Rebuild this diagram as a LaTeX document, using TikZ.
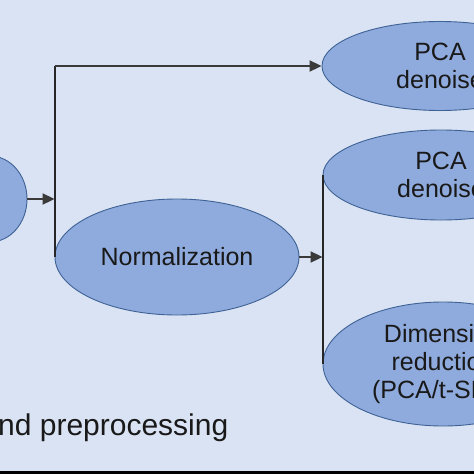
\documentclass[tikz,border=0pt]{standalone}
\usepackage{fontspec}
\setmainfont{Liberation Sans}
\usetikzlibrary{arrows.meta,shapes.geometric}
\definecolor{bgc}{HTML}{DAE3F3}
\definecolor{ellfill}{HTML}{8FAADC}
\definecolor{elldraw}{HTML}{3E6295}
\definecolor{linec}{HTML}{262626}
\definecolor{arrc}{HTML}{3A3A3A}
\tikzset{
  ell/.style={ellipse, draw=elldraw, line width=0.9pt, fill=ellfill, inner sep=0pt,
    align=center, font=\fontsize{25}{28}\selectfont, text=black!90},
  conn/.style={draw=linec, line width=2pt},
  arr/.style={draw=arrc, line width=2pt, -{Triangle[length=12pt,width=11pt]}},
}
\begin{document}
\begin{tikzpicture}[x=1pt,y=-1pt]
\useasboundingbox (0,0) rectangle (474,474);
\clip (0,0) rectangle (474,474);
\fill[bgc] (0,0) rectangle (474,474);
\fill[black] (0,471) rectangle (474,474);
% nodes
\node[ell, minimum width=74pt, minimum height=86pt] (src) at (-10,199) {};
\node[ell, minimum width=244pt, minimum height=116pt] (norm) at (177,257) {Normalization};
\node[ell, minimum width=236pt, minimum height=89pt] (pcaA) at (440,66) {PCA\\denoise};
\node[ell, minimum width=236pt, minimum height=90pt] (pcaB) at (441,175) {PCA\\denoise};
\node[ell, minimum width=240pt, minimum height=124pt] (dimr) at (443,364) {Dimension\\reduction\\(PCA/t-SNE)};
\node[anchor=base west, inner sep=0pt, font=\fontsize{30}{34}\selectfont, text=black!90] (cap) at (-2,435) {nd preprocessing};
% connectors
\draw[arr] (src.east) -- (src.east -| norm.west);
\draw[conn] (norm.west) -- (norm.west |- pcaA.west);
\draw[arr] (norm.west |- pcaA.west) -- (pcaA.west);
\draw[conn] (pcaB.west) -- (dimr.west);
\draw[arr] (norm.east) -- (norm.east -| pcaB.west);
\end{tikzpicture}
\end{document}
